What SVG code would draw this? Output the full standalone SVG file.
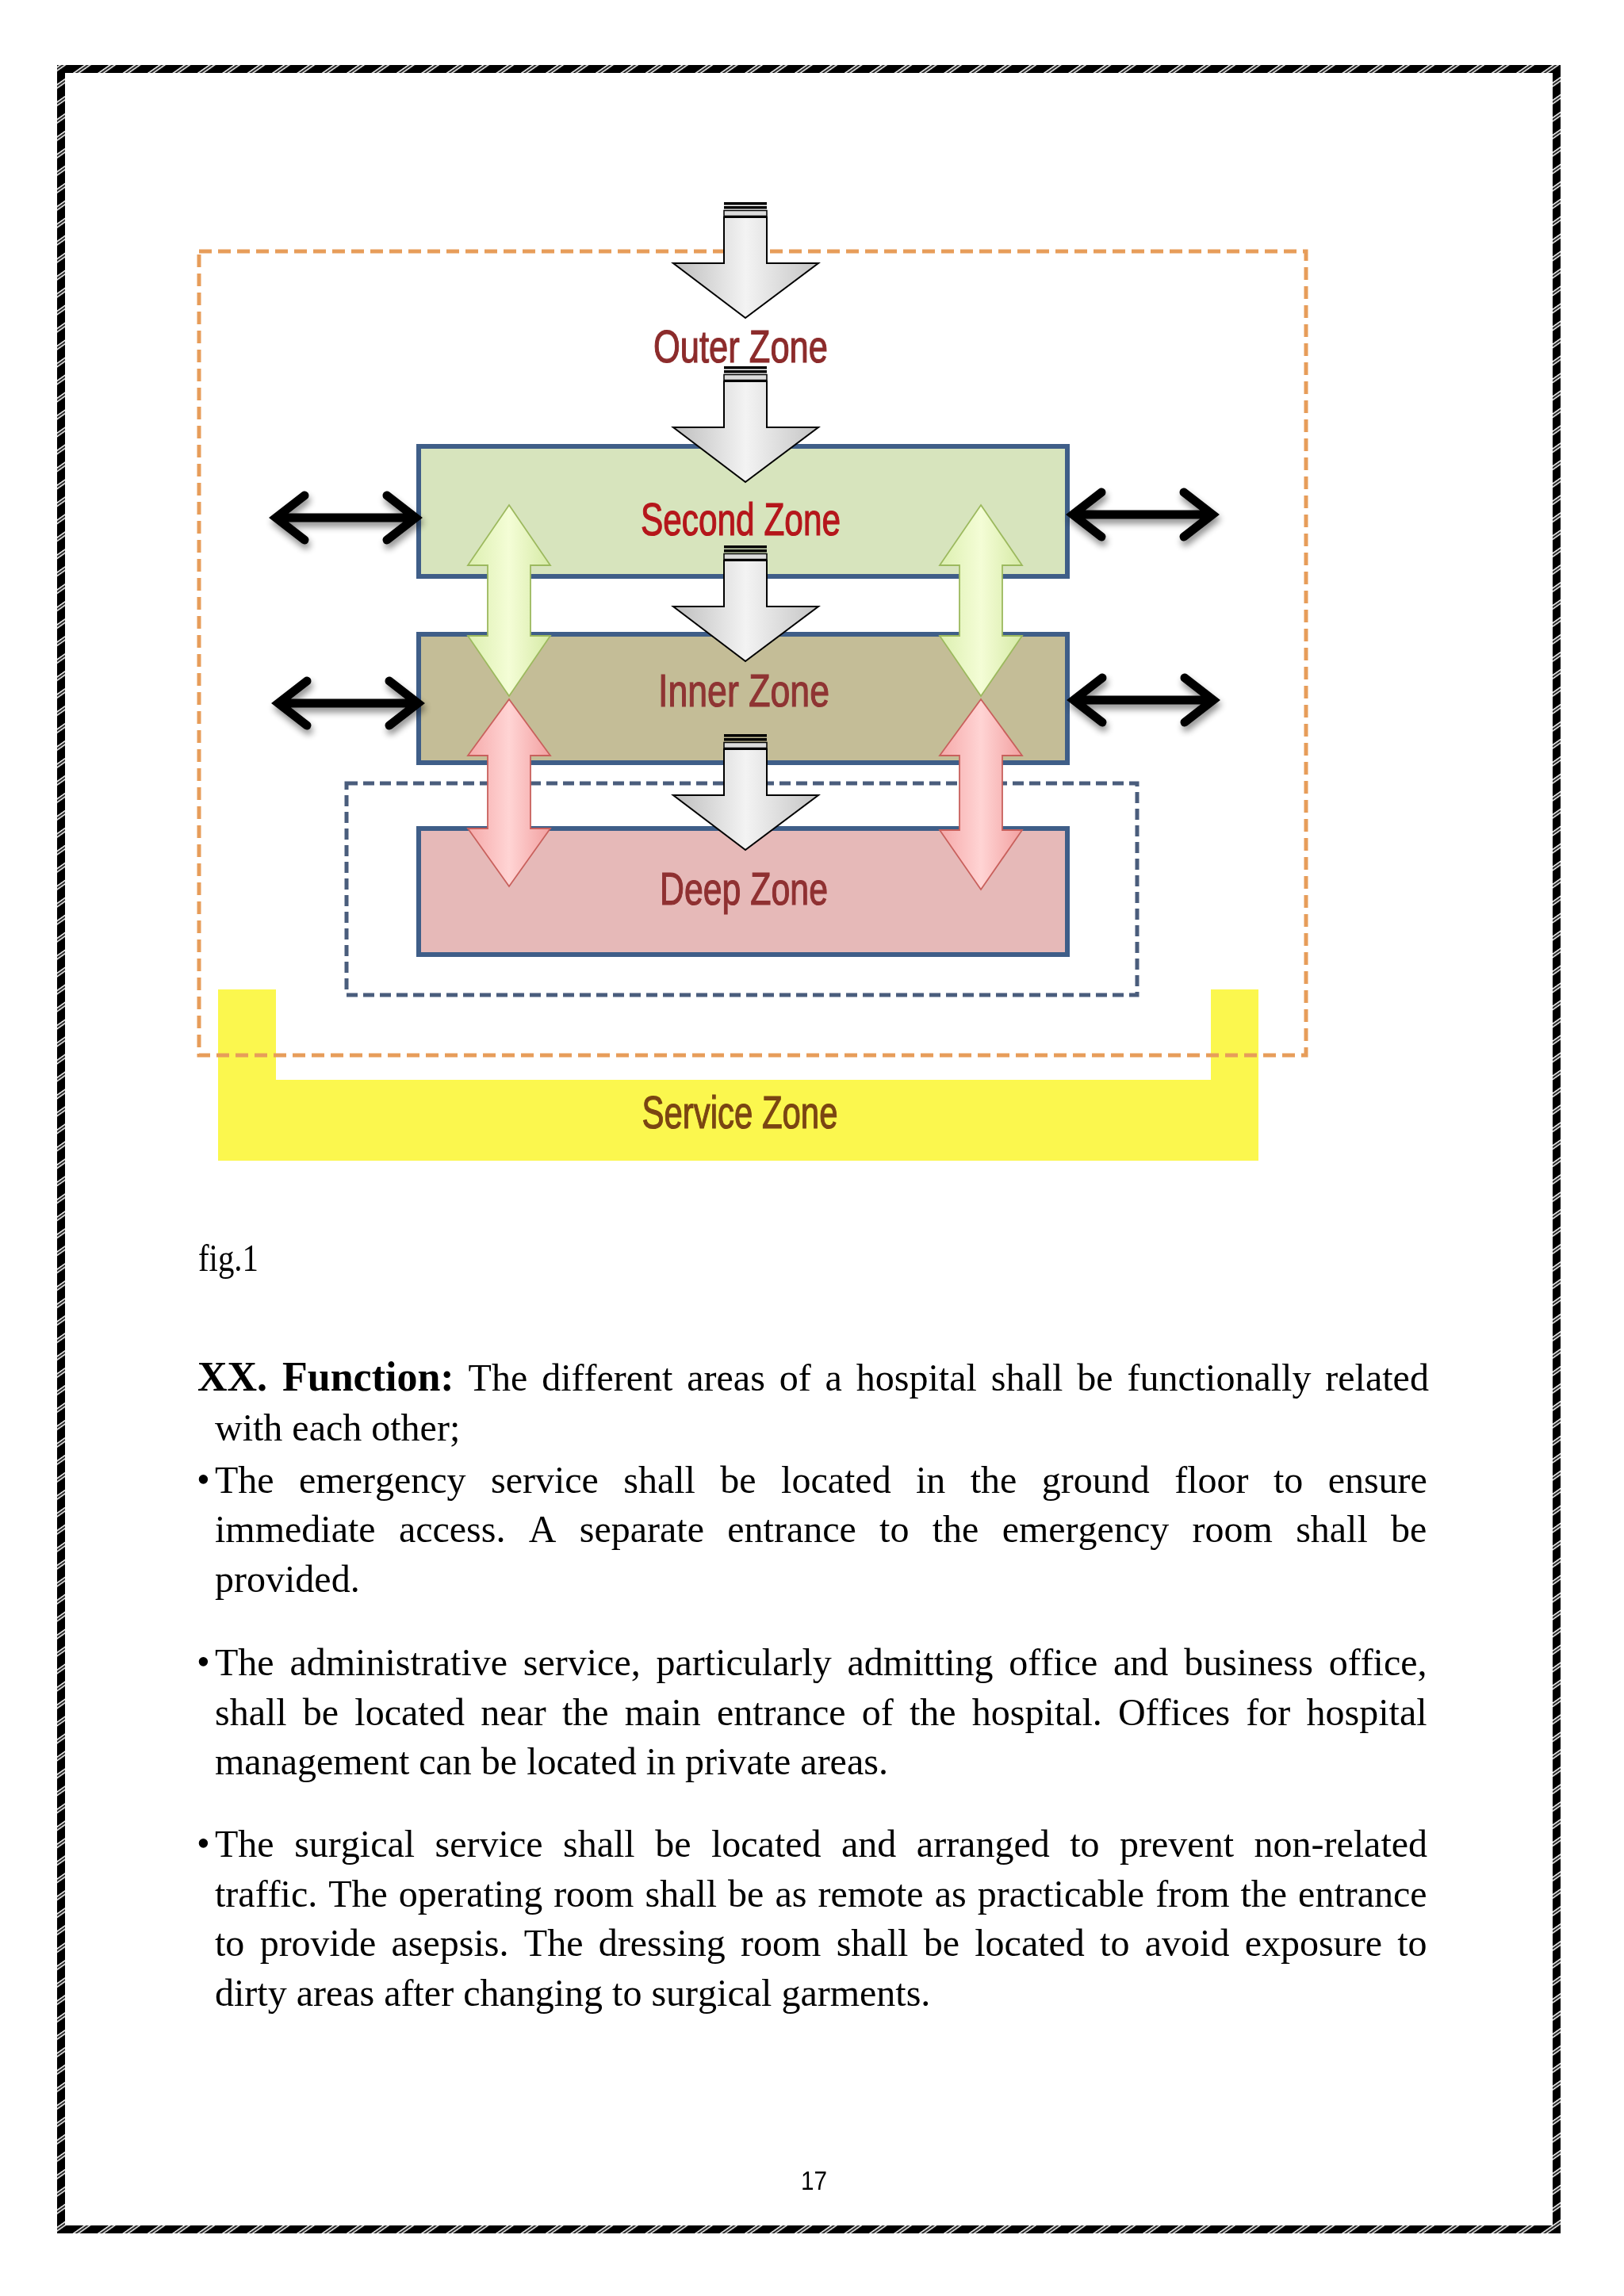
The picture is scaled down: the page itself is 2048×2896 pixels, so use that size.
<svg xmlns="http://www.w3.org/2000/svg" width="2048" height="2896" viewBox="0 0 2048 2896">
  <style>
    .zone-label { font-family: "Liberation Sans", Arial, sans-serif; font-size: 58px; text-anchor: middle; stroke-width: 1.2; paint-order: stroke; }
    .body { font-family: "Liberation Serif", "Times New Roman", serif; font-size: 48px; fill: #000; font-kerning: none; font-variant-ligatures: none; }
    .box { stroke: #3f5e88; stroke-width: 6; }
    .dbl { fill: none; stroke: #000; stroke-width: 11; stroke-linecap: round; stroke-linejoin: miter; }
  </style>
  <defs>
    <pattern id="hatch" patternUnits="userSpaceOnUse" width="18" height="18" patternTransform="rotate(55)">
      <rect width="18" height="18" fill="#000"/>
      <rect x="2" y="0" width="1.6" height="18" fill="#fff"/>
      <rect x="5.5" y="0" width="1.6" height="18" fill="#fff"/>
    </pattern>
    <linearGradient id="grayGrad" x1="0" y1="0" x2="1" y2="0">
      <stop offset="0" stop-color="#bdbdbd"/>
      <stop offset="0.5" stop-color="#f3f3f3"/>
      <stop offset="1" stop-color="#c4c4c4"/>
    </linearGradient>
    <linearGradient id="greenGrad" x1="0" y1="0" x2="1" y2="0">
      <stop offset="0" stop-color="#dcefb0"/>
      <stop offset="0.5" stop-color="#f4fdd6"/>
      <stop offset="1" stop-color="#d6eaa6"/>
    </linearGradient>
    <linearGradient id="pinkGrad" x1="0" y1="0" x2="1" y2="0">
      <stop offset="0" stop-color="#f5a9a9"/>
      <stop offset="0.5" stop-color="#ffd4d4"/>
      <stop offset="1" stop-color="#f2a0a0"/>
    </linearGradient>
    <filter id="shadow" x="-20%" y="-40%" width="140%" height="180%">
      <feGaussianBlur in="SourceAlpha" stdDeviation="4"/>
      <feOffset dx="2" dy="6" result="b"/>
      <feComponentTransfer><feFuncA type="linear" slope="0.45"/></feComponentTransfer>
      <feMerge><feMergeNode/><feMergeNode in="SourceGraphic"/></feMerge>
    </filter>
    <g id="grayArrow">
      <rect x="-27" y="0" width="54" height="3.5" fill="#000"/>
      <rect x="-27" y="5" width="54" height="3.5" fill="#000"/>
      <rect x="-27" y="10.5" width="54" height="7" fill="#dcdcdc" stroke="#000" stroke-width="1.5"/>
      <path d="M-27,19 H27 V77 H92 L0,146 L-91,77 H-27 Z" fill="url(#grayGrad)" stroke="#000" stroke-width="2" stroke-linejoin="miter"/>
    </g>
    <path id="blackDbl" class="dbl" d="M0,0 H176 M36,-28 L0,0 L36,28 M140,-28 L176,0 L140,28"/>
  </defs>

  <rect width="2048" height="2896" fill="#fff"/>

  <!-- page border -->
  <rect id="page-border" x="77" y="87" width="1886" height="2725" fill="none" stroke="url(#hatch)" stroke-width="10"/>

  <!-- service zone (yellow U) -->
  <g id="service-zone">
    <path d="M275,1248 H348 V1362 H1527 V1248 H1587 V1464 H275 Z" fill="#fbf74e"/>
    <text class="zone-label" x="933" y="1423" fill="#7a4512" stroke="#7a4512" textLength="247" lengthAdjust="spacingAndGlyphs">Service Zone</text>
  </g>

  <!-- outer zone -->
  <g id="outer-zone">
    <rect x="251" y="317" width="1396" height="1014" fill="none" stroke="#e79d5a" stroke-width="5" stroke-dasharray="16 8"/>
    <text class="zone-label" x="934" y="457" fill="#8c2b2b" stroke="#8c2b2b" textLength="220" lengthAdjust="spacingAndGlyphs">Outer Zone</text>
  </g>

  <!-- deep zone enclosure (blue dashed) -->
  <g id="deep-enclosure">
    <rect x="437" y="988" width="997" height="267" fill="none" stroke="#4a5d7c" stroke-width="5" stroke-dasharray="14 7"/>
  </g>

  <g id="second-zone">
    <rect class="box" x="528" y="563" width="818" height="164" fill="#d7e4bd"/>
    <text class="zone-label" x="934" y="675" fill="#b5161b" stroke="#b5161b" textLength="252" lengthAdjust="spacingAndGlyphs">Second Zone</text>
  </g>

  <g id="inner-zone">
    <rect class="box" x="528" y="800" width="818" height="162" fill="#c4bd97"/>
    <text class="zone-label" x="938" y="891" fill="#8f3433" stroke="#8f3433" textLength="216" lengthAdjust="spacingAndGlyphs">Inner Zone</text>
  </g>

  <g id="deep-zone">
    <rect class="box" x="528" y="1045" width="818" height="159" fill="#e6b9b8"/>
    <text class="zone-label" x="938" y="1141" fill="#8f3031" stroke="#8f3031" textLength="212" lengthAdjust="spacingAndGlyphs">Deep Zone</text>
  </g>

  <!-- connectors -->
  <g id="connectors">
    <use href="#grayArrow" x="940" y="255"/>
    <use href="#grayArrow" x="940" y="462"/>
    <use href="#grayArrow" x="940" y="688"/>
    <use href="#grayArrow" x="940" y="926"/>

    <g id="black-arrows" filter="url(#shadow)">
      <use href="#blackDbl" x="348" y="653"/>
      <use href="#blackDbl" x="351" y="887"/>
      <use href="#blackDbl" x="1353" y="649"/>
      <use href="#blackDbl" x="1354" y="883"/>
    </g>

    <g id="green-arrows" fill="url(#greenGrad)" stroke="#9cb95e" stroke-width="1.8" stroke-linejoin="miter">
      <path d="M642,637 L694,713 L669,713 L669,802 L694,802 L642,878 L590,802 L615,802 L615,713 L590,713 Z"/>
      <path d="M1237,637 L1289,713 L1264,713 L1264,802 L1289,802 L1237,878 L1185,802 L1210,802 L1210,713 L1185,713 Z"/>
    </g>
    <g id="pink-arrows" fill="url(#pinkGrad)" stroke="#c8605c" stroke-width="1.8" stroke-linejoin="miter">
      <path d="M642,882 L694,953 L669,953 L669,1045 L694,1045 L642,1118 L590,1045 L615,1045 L615,953 L590,953 Z"/>
      <path d="M1237,882 L1289,953 L1264,953 L1264,1047 L1289,1047 L1237,1122 L1185,1047 L1210,1047 L1210,953 L1185,953 Z"/>
    </g>
  </g>

  <!-- caption and body text -->
  <g id="caption">
    <text class="body" x="250" y="1603" font-size="40" textLength="76" lengthAdjust="spacingAndGlyphs">fig.1</text>
  </g>

  <g id="body-text">
    <text class="body" x="249" y="1754" word-spacing="5.9"><tspan font-weight="bold" font-size="52">XX. Function:</tspan> The different areas of a hospital shall be functionally related</text>
    <text class="body" x="271" y="1817">with each other;</text>

    <text class="body" x="248" y="1882" font-size="30">•</text>
    <text class="body" x="271" y="1883" word-spacing="19.4">The emergency service shall be located in the ground floor to ensure</text>
    <text class="body" x="271" y="1945" word-spacing="17.3">immediate access. A separate entrance to the emergency room shall be</text>
    <text class="body" x="271" y="2008">provided.</text>

    <text class="body" x="248" y="2112" font-size="30">•</text>
    <text class="body" x="271" y="2113" word-spacing="7.8">The administrative service, particularly admitting office and business office,</text>
    <text class="body" x="271" y="2176" word-spacing="8.2">shall be located near the main entrance of the hospital. Offices for hospital</text>
    <text class="body" x="271" y="2238">management can be located in private areas.</text>

    <text class="body" x="248" y="2341" font-size="30">•</text>
    <text class="body" x="271" y="2342" word-spacing="13.5">The surgical service shall be located and arranged to prevent non-related</text>
    <text class="body" x="271" y="2405" word-spacing="2.0">traffic. The operating room shall be as remote as practicable from the entrance</text>
    <text class="body" x="271" y="2467" word-spacing="7.3">to provide asepsis. The dressing room shall be located to avoid exposure to</text>
    <text class="body" x="271" y="2530">dirty areas after changing to surgical garments.</text>
  </g>

  <g id="page-number">
    <text x="1010" y="2762" font-family="'Liberation Sans', Arial, sans-serif" font-size="34" fill="#000" textLength="33" lengthAdjust="spacingAndGlyphs">17</text>
  </g>
</svg>
